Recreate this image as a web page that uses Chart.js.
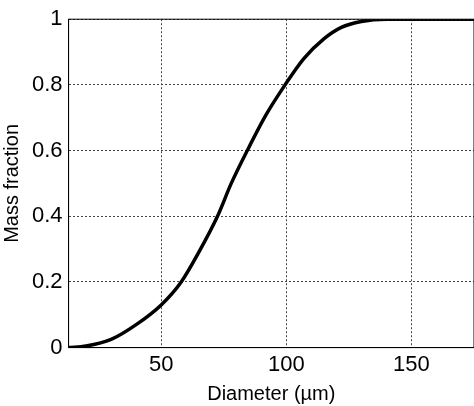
<!DOCTYPE html>
<html><head><script src="https://cdn.jsdelivr.net/npm/chart.js@4"></script>
<style>body{margin:0;background:#fff}#w{width:474px;height:406px}</style></head>
<body><div id="w"><canvas id="c"></canvas></div>
<script>
const diameters=[13,20,30,40,50,58,65,72.5,78,84.4,92,99.5,107,115,122,130,140,175];
const massFraction=[0,0.005,0.025,0.07,0.13,0.2,0.29,0.4,0.5,0.6,0.71,0.8,0.88,0.94,0.975,0.993,1,1];
const xTicks=[50,100,150];
const yTicks=[0,0.2,0.4,0.6,0.8,1];
const font={family:"Liberation Sans, Arial",size:22};
const tfont={family:"Liberation Sans, Arial",size:20};
const grid={color:'#444',lineWidth:1,drawTicks:false};
const border={display:true,color:'#000',width:1,dash:[2,2]};
new Chart(document.getElementById('c'),{type:'line',
data:{datasets:[{data:diameters.map((x,i)=>({x,y:massFraction[i]})),borderColor:'#000',borderWidth:3.5,pointRadius:0,cubicInterpolationMode:'monotone'}]},
options:{responsive:true,maintainAspectRatio:false,animation:false,
layout:{padding:{top:2,right:0,left:0,bottom:0}},
plugins:{legend:{display:false},tooltip:{enabled:false}},
scales:{
x:{type:'linear',min:13,max:175,afterBuildTicks:a=>{a.ticks=xTicks.map(v=>({value:v}))},
 grid,border,
 ticks:{font,color:'#000',padding:4,callback:v=>String(v)},
 title:{display:true,text:'Diameter (µm)',font:tfont,color:'#000',padding:{top:0,bottom:0}}},
y:{min:0,max:1,afterBuildTicks:a=>{a.ticks=yTicks.map(v=>({value:v}))},
 grid,border,
 ticks:{font,color:'#000',padding:6,callback:v=>String(v)},
 title:{display:true,text:'Mass fraction',font:tfont,color:'#000',padding:{top:0,bottom:2}}}}},
plugins:[{id:'box',afterDraw(ch){const a=ch.chartArea,c=ch.ctx;c.save();c.strokeStyle='#000';c.lineWidth=1;c.strokeRect(a.left,a.top,a.right-a.left,a.bottom-a.top);c.restore();}}]
});
</script></body></html>
